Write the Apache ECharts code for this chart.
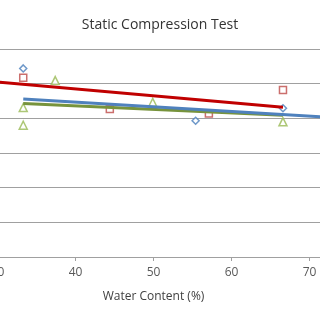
<!DOCTYPE html>
<html>
<head>
<meta charset="utf-8">
<script src="https://cdn.jsdelivr.net/npm/echarts@6/dist/echarts.min.js"></script>
<style>
html,body{margin:0;padding:0;background:#fff;}
#main{width:320px;height:320px;}
</style>
</head>
<body>
<div id="main"></div>
<script>
// scatter points [water content, value]
var bluePts = [[33.3, 5.44], [55.4, 3.93], [66.6, 4.29]];
var redPts = [[33.3, 5.17], [44.4, 4.27], [57.1, 4.14], [66.6, 4.82]];
var greenPts = [[33.3, 4.31], [33.3, 3.80], [37.4, 5.09], [49.9, 4.46], [66.6, 3.90]];

// trend lines (end points)
var redTrend = [[28, 5.09], [66.6, 4.32]];
var blueTrend = [[33.3, 4.56], [75, 4.00]];
var greenTrend = [[33.3, 4.43], [66.6, 4.09]];

var xTicks = [20, 80, 10];   // min, max, interval
var yTicks = [0, 6, 1];

var chart = echarts.init(document.getElementById('main'));
var option = {
    animation: false,
    title: {
        text: 'Static Compression Test',
        left: 'center',
        top: 13,
        textStyle: {
            color: '#333333',
            fontSize: 14,
            fontWeight: 'normal',
            fontFamily: 'Open Sans'
        }
    },
    grid: {
        left: -80.5,
        right: -67.5,
        top: 49,
        bottom: 63,
        containLabel: false,
        outerBoundsMode: 'none'
    },
    xAxis: {
        type: 'value',
        min: xTicks[0],
        max: xTicks[1],
        interval: xTicks[2],
        name: 'Water Content (%)',
        nameLocation: 'middle',
        nameGap: 34,
        nameTextStyle: {color: '#404040', fontSize: 12, fontFamily: 'Open Sans'},
        axisLine: {lineStyle: {color: '#a0a0a0', width: 1}},
        axisTick: {show: true, length: 4, lineStyle: {color: '#a0a0a0'}},
        axisLabel: {color: '#595959', fontSize: 12, margin: 10, fontFamily: 'Open Sans'},
        splitLine: {show: false}
    },
    yAxis: {
        type: 'value',
        min: yTicks[0],
        max: yTicks[1],
        interval: yTicks[2],
        axisLine: {show: false},
        axisTick: {show: false},
        axisLabel: {show: false},
        splitLine: {lineStyle: {color: '#a0a0a0', width: 1}}
    },
    series: [
        {
            type: 'scatter', data: bluePts, symbol: 'diamond', symbolSize: 7,
            itemStyle: {color: '#fff', borderColor: '#4a7ebb', borderWidth: 1.5}
        },
        {
            type: 'scatter', data: redPts, symbol: 'rect', symbolSize: 7,
            itemStyle: {color: '#fff', borderColor: '#be4b48', borderWidth: 1.5}
        },
        {
            type: 'scatter', data: greenPts, symbol: 'triangle', symbolSize: 8,
            itemStyle: {color: '#fff', borderColor: '#98b954', borderWidth: 1.5}
        },
        {
            type: 'line', data: greenTrend, showSymbol: false,
            lineStyle: {color: '#77933c', width: 3}
        },
        {
            type: 'line', data: blueTrend, showSymbol: false,
            lineStyle: {color: '#4f81bd', width: 3}
        },
        {
            type: 'line', data: redTrend, showSymbol: false,
            lineStyle: {color: '#c00000', width: 3}
        }
    ]
};
chart.setOption(option);
</script>
</body>
</html>
